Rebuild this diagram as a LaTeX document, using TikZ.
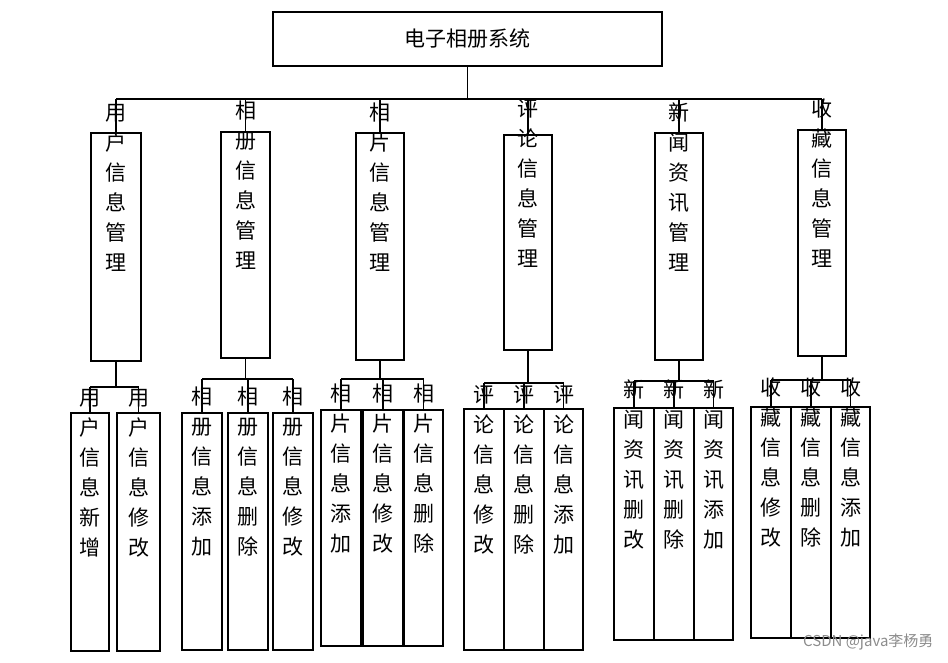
\documentclass[tikz,border=0pt]{standalone}
\usepackage{fontspec}
\setmainfont{Noto Sans CJK SC}
\begin{document}
\begin{tikzpicture}[x=1pt,y=-1pt,
  box/.style={draw,line width=1.5pt,inner sep=0pt,align=center,font=\fontsize{21}{30}\selectfont},
  vbox/.style={box,text height=48pt},
  conn/.style={line width=1.5pt}]
\useasboundingbox (0,0) rectangle (948,662);
\newcommand{\bx}[7][vbox]{\node[#1,minimum width=#5-#3,minimum height=#6-#4] (#2) at ({(#3+#5)/2},{(#4+#6)/2+6}) {#7};}
\bx[box]{root}{273}{6}{662}{60}{电子相册系统}
\bx{a}{91}{127}{141}{355}{用\\户\\信\\息\\管\\理}
\bx{b}{221}{126}{270}{352}{相\\册\\信\\息\\管\\理}
\bx{c}{356}{127}{404}{354}{相\\片\\信\\息\\管\\理}
\bx{d}{504}{129}{552}{344}{评\\论\\信\\息\\管\\理}
\bx{e}{655}{127}{703}{354}{新\\闻\\资\\讯\\管\\理}
\bx{f}{798}{124}{846}{350}{收\\藏\\信\\息\\管\\理}
\bx{a1}{71}{407}{109}{645}{用\\户\\信\\息\\新\\增}
\bx{a2}{117}{407}{160}{645}{用\\户\\信\\息\\修\\改}
\bx{b1}{182}{407}{222}{644}{相\\册\\信\\息\\添\\加}
\bx{b2}{228}{407}{268}{644}{相\\册\\信\\息\\删\\除}
\bx{b3}{273}{407}{313}{644}{相\\册\\信\\息\\修\\改}
\bx{c1}{321}{404}{361}{640}{相\\片\\信\\息\\添\\加}
\bx{c2}{363}{404}{403}{640}{相\\片\\信\\息\\修\\改}
\bx{c3}{404}{404}{443}{640}{相\\片\\信\\息\\删\\除}
\bx{d1}{464}{403}{504}{644}{评\\论\\信\\息\\修\\改}
\bx{d2}{504}{403}{544}{644}{评\\论\\信\\息\\删\\除}
\bx{d3}{544}{403}{583}{644}{评\\论\\信\\息\\添\\加}
\bx{e1}{614}{402}{654}{634}{新\\闻\\资\\讯\\删\\改}
\bx{e2}{654}{402}{694}{634}{新\\闻\\资\\讯\\删\\除}
\bx{e3}{694}{402}{733}{634}{新\\闻\\资\\讯\\添\\加}
\bx{f1}{751}{401}{791}{632}{收\\藏\\信\\息\\修\\改}
\bx{f2}{791}{401}{831}{632}{收\\藏\\信\\息\\删\\除}
\bx{f3}{831}{401}{870}{632}{收\\藏\\信\\息\\添\\加}
\coordinate (bus) at (0,99);
\draw[conn] (root.south) -- (root.south |- bus);
\draw[conn] (a.north |- bus) -- (f.north |- bus);
\foreach \n in {a,b,c,d,e,f} \draw[conn] (\n.north) -- (\n.north |- bus);
\foreach \p/\y/\kids in {a/387/{a1,a2},b/379/{b1,b2,b3},c/379/{c1,c2,c3},d/383/{d1,d2,d3},e/381/{e1,e2,e3},f/380/{f1,f2,f3}}{
  \coordinate (sb) at (0,\y);
  \draw[conn] (\p.south) -- (\p.south |- sb);
  \foreach \k in \kids \draw[conn] (\k.north) -- (\k.north |- sb);
}
\draw[conn] (a1.north |- 0,387) -- (a2.north |- 0,387);
\draw[conn] (b1.north |- 0,379) -- (b3.north |- 0,379);
\draw[conn] (c1.north |- 0,379) -- (c3.north |- 0,379);
\draw[conn] (d1.north |- 0,383) -- (d3.north |- 0,383);
\draw[conn] (e1.north |- 0,381) -- (e3.north |- 0,381);
\draw[conn] (f1.north |- 0,380) -- (f3.north |- 0,380);
\node[text=gray!90,font=\fontsize{15}{17}\selectfont,anchor=east] (wm) at (937,642) {CSDN @java李杨勇};
\end{tikzpicture}
\end{document}
